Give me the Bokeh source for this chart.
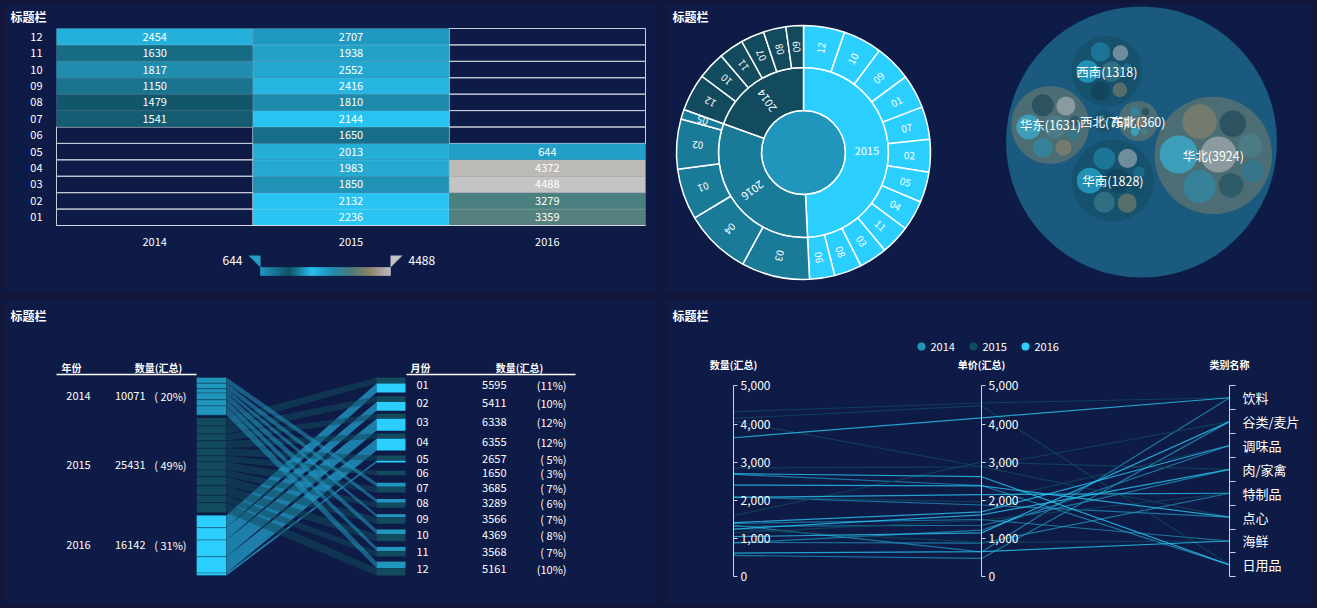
import math
from bokeh.plotting import figure
from bokeh.layouts import column, row
from bokeh.models import (ColumnDataSource, Range1d, LinearColorMapper, LinearAxis,
                          FixedTicker, NumeralTickFormatter, Spacer)
from bokeh.transform import transform
from bokeh.core.properties import value
from bokeh.embed import file_html
from bokeh.resources import INLINE

# ---------------- data ----------------
years = ["2014", "2015", "2016"]
months = ["01", "02", "03", "04", "05", "06", "07", "08", "09", "10", "11", "12"]
qty_2014 = [None, None, None, None, None, None, 1541, 1479, 1150, 1817, 1630, 2454]
qty_2015 = [2236, 2132, 1850, 1983, 2013, 1650, 2144, 1810, 2416, 2552, 1938, 2707]
qty_2016 = [3359, 3279, 4488, 4372, 644, None, None, None, None, None, None, None]
year_colors = ["#2196bd", "#124a5e", "#2bcffd"]
sunburst_colors = ["#134b5e", "#2bcffd", "#1a7b99"]
sunburst_center = "#2196bd"

regions = ["西北", "东北", "西南", "华东", "华南", "华北"]
categories = ["饮料", "谷类/麦片", "调味品", "肉/家禽", "特制品", "点心", "海鲜", "日用品"]
cat_qty_xibei = [20, 15, 12, 10, 8, 6, 3, 2]
cat_qty_dongbei = [80, 70, 50, 60, 40, 30, 20, 10]
cat_qty_xinan = [139, 123, 291, 222, 214, 245, 32, 52]
cat_qty_huadong = [206, 148, 348, 226, 272, 296, 74, 61]
cat_qty_huanan = [208, 208, 378, 274, 334, 251, 75, 100]
cat_qty_huabei = [692, 631, 773, 565, 371, 310, 258, 324]
# each region bubble rests against two earlier bubbles, on the left-hand side of i -> j
region_touch = [None, None, (0, 1), (0, 2), (1, 3), (1, 4)]
region_fill = ["#124a5e", "#9a8a6a", "#124a5e", "#9a8a6a", "#124a5e", "#9a8a6a"]
region_alpha = [0.5, 0.4, 0.5, 0.4, 0.5, 0.4]
cat_fill = ["#c8c8c8", "#9a8a6a", "#2bcffd", "#2196bd", "#0e3a4e", "#4a8a96", "#1f7f9f", "#124a5e"]

par_qty_2014 = [1350, 560, 880, 1320, 900, 2100, 1400, 2680]
par_price_2014 = [650, 480, 1220, 1350, 880, 1880, 1500, 2390]
par_qty_2015 = [4320, 2850, 2100, 1600, 1150, 4075, 1250, 4145]
par_price_2015 = [4550, 2880, 1960, 3000, 1480, 2880, 900, 4480]
par_qty_2016 = [3640, 1050, 1420, 1250, 2080, 2400, 620, 2700]
par_price_2016 = [4160, 1150, 1700, 1620, 2150, 2380, 660, 2620]

# ---------------- style ----------------
PAGE = "#13163b"
PANEL = "#0e1b46"
FONT = "Noto Sans CJK SC"
WHITE = "#ffffff"
W_L, W_R = 652, 647
H_T, H_B = 289, 304

series = [qty_2014, qty_2015, qty_2016]


def panel_fig(w, h, xr, yr):
    p = figure(width=w, height=h, x_range=xr, y_range=yr, output_backend="svg",
               toolbar_location=None, x_axis_type=None, y_axis_type=None, min_border=0)
    p.background_fill_color = PANEL
    p.border_fill_color = PANEL
    p.outline_line_color = None
    p.title.visible = False
    return p


def put_text(p, x, y, text, size="11px", align="left", bold=False, color=WHITE, angle=None):
    data = dict(x=x, y=y, text=text)
    kw = {}
    if angle is not None:
        data["angle"] = angle
        kw["angle"] = "angle"
    p.text(x="x", y="y", text="text", source=ColumnDataSource(data), text_font=value(FONT),
           text_font_size=size, text_align=align, text_baseline="middle", text_color=color,
           text_font_style="bold" if bold else "normal", **kw)


def hex_rgb(h):
    h = h.lstrip("#")
    return [int(h[i:i + 2], 16) for i in (0, 2, 4)]


def ramp(stops, n=256):
    out = []
    for k in range(n):
        t = k / (n - 1)
        for (t0, c0), (t1, c1) in zip(stops[:-1], stops[1:]):
            if t0 <= t <= t1:
                f = (t - t0) / (t1 - t0)
                a, b = hex_rgb(c0), hex_rgb(c1)
                out.append("#%02x%02x%02x" % tuple(round(a[i] + (b[i] - a[i]) * f) for i in range(3)))
                break
    return out


def plain_axis(**kw):
    return LinearAxis(minor_tick_line_color=None, major_label_text_color=WHITE,
                      major_label_text_font=FONT, **kw)


# ================= heat map (top left) =================
all_vals = [v for s in series for v in s if v is not None]
vmin, vmax = min(all_vals), max(all_vals)
heat_stops = [(0.0, "#229fc6"), (0.22, "#125569"), (0.40, "#2bcbfa"), (0.54, "#2098bf"),
              (0.685, "#4a8080"), (0.84, "#968a6c"), (1.0, "#c4c4c4")]
mapper = LinearColorMapper(palette=ramp(heat_stops), low=vmin, high=vmax)

# one unit per year column / month row; the grid occupies x 51..640, y 25..222 (px from top)
upx = 3 / 589.0
upy = 12 / 197.0
tl_x0 = -51 * upx
tl_y0 = -(H_T - 222) * upy
tl = panel_fig(W_L, H_T, Range1d(tl_x0, tl_x0 + W_L * upx), Range1d(tl_y0, tl_y0 + H_T * upy))


def TX(px):
    return tl_x0 + px * upx


def TY(top_px):
    return tl_y0 + (H_T - top_px) * upy


put_text(tl, [TX(5)], [TY(13)], ["标题栏"], size="12px", bold=True)

cx_, cy_, cv_, ex_, ey_ = [], [], [], [], []
for c, s in enumerate(series):
    for r, v in enumerate(s):
        if v is None:
            ex_.append(c + 0.5)
            ey_.append(r + 0.5)
        else:
            cx_.append(c + 0.5)
            cy_.append(r + 0.5)
            cv_.append(v)
cells = ColumnDataSource(dict(x=cx_, y=cy_, v=cv_, t=[str(v) for v in cv_]))
tl.rect(x="x", y="y", width=1, height=1, source=ColumnDataSource(dict(x=ex_, y=ey_)),
        fill_alpha=0, line_color="#c9cdd6", line_width=1)
tl.rect(x="x", y="y", width=1, height=1, source=cells, fill_color=transform("v", mapper),
        line_color="#ffffff", line_alpha=0.12, line_width=1)
tl.text(x="x", y="y", text="t", source=cells, text_font=value(FONT), text_font_size="11px",
        text_align="center", text_baseline="middle", text_color=WHITE)

xa = plain_axis(fixed_location=0, bounds=(0, 3), ticker=FixedTicker(ticks=[0.5, 1.5, 2.5]),
                major_label_overrides={i + 0.5: y for i, y in enumerate(years)},
                axis_line_color="#d4d8e0", major_tick_line_color=None, major_label_standoff=6,
                major_label_text_font_size="11px")
tl.add_layout(xa, "below")
ya = plain_axis(fixed_location=0, bounds=(0, 12), ticker=FixedTicker(ticks=[i + 0.5 for i in range(12)]),
                major_label_overrides={i + 0.5: m for i, m in enumerate(months)},
                axis_line_color=None, major_tick_line_color=None, major_label_standoff=8,
                major_label_text_font_size="11px")
tl.add_layout(ya, "left")

# continuous colour legend: bar 255..385 px, values vmin..vmax
steps = 130
gl = [TX(255 + 130.0 * i / steps) for i in range(steps)]
gr = [TX(255 + 130.0 * (i + 1) / steps) for i in range(steps)]
gm = [vmin + (vmax - vmin) * (i + 0.5) / steps for i in range(steps)]
tl.quad(left="l", right="r", top=TY(264), bottom=TY(272), source=ColumnDataSource(dict(l=gl, r=gr, m=gm)),
        fill_color=transform("m", mapper), line_color=transform("m", mapper), line_width=0.5)
tri = ColumnDataSource(dict(xs=[[TX(243), TX(255), TX(255)], [TX(385), TX(397), TX(385)]],
                            ys=[[TY(252), TY(252), TY(264)], [TY(252), TY(252), TY(264)]], v=[vmin, vmax]))
tl.patches(xs="xs", ys="ys", source=tri, fill_color=transform("v", mapper), line_color=None)
put_text(tl, [TX(237)], [TY(257)], [str(vmin)], size="12px", align="right")
put_text(tl, [TX(403)], [TY(257)], [str(vmax)], size="12px", align="left")

# ================= sunburst + packed bubbles (top right) =================
tr = panel_fig(W_R, H_T, Range1d(0, W_R), Range1d(0, H_T))
put_text(tr, [7], [H_T - 13], ["标题栏"], size="12px", bold=True)

year_tot = [sum(v for v in s if v is not None) for s in series]
grand = sum(year_tot)
sb_x, sb_y = 138, 140
r_in, r_mid, r_out = 42, 85, 127

w1 = dict(s=[], e=[], c=[])
w2 = dict(s=[], e=[], c=[])
l1 = dict(x=[], y=[], t=[], a=[])
l2 = dict(x=[], y=[], t=[], a=[])
frac = 0.0
for yi in sorted(range(3), key=lambda i: -year_tot[i]):
    f0, f1 = frac, frac + year_tot[yi] / grand
    w1["s"].append(math.pi / 2 - 2 * math.pi * f1)
    w1["e"].append(math.pi / 2 - 2 * math.pi * f0)
    w1["c"].append(sunburst_colors[yi])
    th = math.pi / 2 - 2 * math.pi * (f0 + f1) / 2
    rm = (r_in + r_mid) / 2
    l1["x"].append(sb_x + rm * math.cos(th))
    l1["y"].append(sb_y + rm * math.sin(th))
    l1["t"].append(years[yi])
    l1["a"].append(th)
    kids = sorted([(v, m) for m, v in zip(months, series[yi]) if v is not None], key=lambda t: -t[0])
    g = f0
    for v, m in kids:
        g0, g1 = g, g + v / grand
        w2["s"].append(math.pi / 2 - 2 * math.pi * g1)
        w2["e"].append(math.pi / 2 - 2 * math.pi * g0)
        w2["c"].append(sunburst_colors[yi])
        th = math.pi / 2 - 2 * math.pi * (g0 + g1) / 2
        rm = (r_mid + r_out) / 2
        l2["x"].append(sb_x + rm * math.cos(th))
        l2["y"].append(sb_y + rm * math.sin(th))
        l2["t"].append(m)
        l2["a"].append(th)
        g = g1
    frac = f1

tr.circle(x=[sb_x], y=[sb_y], radius=r_in, fill_color=sunburst_center, line_color=WHITE, line_width=1.5)
tr.annular_wedge(x=sb_x, y=sb_y, inner_radius=r_in, outer_radius=r_mid, start_angle="s", end_angle="e",
                 direction="anticlock", source=ColumnDataSource(w1), fill_color="c", line_color=WHITE,
                 line_width=1.5)
tr.annular_wedge(x=sb_x, y=sb_y, inner_radius=r_mid, outer_radius=r_out, start_angle="s", end_angle="e",
                 direction="anticlock", source=ColumnDataSource(w2), fill_color="c", line_color=WHITE,
                 line_width=1.5)
put_text(tr, l1["x"], l1["y"], l1["t"], size="11px", align="center", angle=l1["a"])
put_text(tr, l2["x"], l2["y"], l2["t"], size="10px", align="center", angle=l2["a"])


# ---- circle packing ----
def tangent_spots(a, b, r):
    (x1, y1, r1), (x2, y2, r2) = a, b
    R1, R2 = r1 + r, r2 + r
    dx, dy = x2 - x1, y2 - y1
    d = math.hypot(dx, dy)
    if d < 1e-12 or d > R1 + R2 or d < abs(R1 - R2):
        return []
    t = (R1 * R1 - R2 * R2 + d * d) / (2 * d)
    h = math.sqrt(max(R1 * R1 - t * t, 0.0))
    ux, uy = dx / d, dy / d
    bx, by = x1 + t * ux, y1 + t * uy
    return [(bx - h * uy, by + h * ux), (bx + h * uy, by - h * ux)]


def enclose2(a, b):
    (x1, y1, r1), (x2, y2, r2) = a, b
    dx, dy = x2 - x1, y2 - y1
    l = math.hypot(dx, dy)
    if l < 1e-12:
        return (x1, y1, max(r1, r2))
    R = (l + r1 + r2) / 2
    return (x1 + dx / l * (R - r1), y1 + dy / l * (R - r1), R)


def enclose3(a, b, c):
    x1, y1, r1 = a
    x2, y2, r2 = b
    x3, y3, r3 = c
    a2, a3 = x1 - x2, x1 - x3
    b2, b3 = y1 - y2, y1 - y3
    c2, c3 = r2 - r1, r3 - r1
    d1 = x1 * x1 + y1 * y1 - r1 * r1
    d2 = d1 - x2 * x2 - y2 * y2 + r2 * r2
    d3 = d1 - x3 * x3 - y3 * y3 + r3 * r3
    ab = a3 * b2 - a2 * b3
    if abs(ab) < 1e-12:
        return None
    xa = (b2 * d3 - b3 * d2) / (ab * 2) - x1
    xb = (b3 * c2 - b2 * c3) / ab
    ya = (a3 * d2 - a2 * d3) / (ab * 2) - y1
    yb = (a2 * c3 - a3 * c2) / ab
    A = xb * xb + yb * yb - 1
    B = 2 * (r1 + xa * xb + ya * yb)
    C = xa * xa + ya * ya - r1 * r1
    if abs(A) > 1e-6:
        disc = B * B - 4 * A * C
        if disc < 0:
            return None
        r = -(B + math.sqrt(disc)) / (2 * A)
    else:
        if abs(B) < 1e-12:
            return None
        r = -C / B
    return (x1 + xa + xb * r, y1 + ya + yb * r, r)


def min_enclosing(circles):
    cands = [tuple(c) for c in circles]
    n = len(circles)
    for i in range(n):
        for j in range(i + 1, n):
            cands.append(enclose2(circles[i], circles[j]))
            for k in range(j + 1, n):
                e = enclose3(circles[i], circles[j], circles[k])
                if e is not None:
                    cands.append(e)
    best = None
    for c in cands:
        if c[2] <= 0:
            continue
        if all(math.hypot(q[0] - c[0], q[1] - c[1]) + q[2] <= c[2] + 1e-6 for q in circles):
            if best is None or c[2] < best[2]:
                best = c
    return best


def pack(radii, pad, touch=None):
    rs = [r + pad for r in radii]
    placed = []
    for k, r in enumerate(rs):
        if not placed:
            placed.append((0.0, 0.0, r))
            continue
        if len(placed) == 1:
            placed.append((placed[0][2] + r, 0.0, r))
            continue
        if touch is not None:
            i, j = touch[k]
            x, y = tangent_spots(placed[i], placed[j], r)[0]
            placed.append((x, y, r))
            continue
        mx = sum(q[0] for q in placed) / len(placed)
        my = sum(q[1] for q in placed) / len(placed)
        best = None
        for i in range(len(placed)):
            for j in range(i + 1, len(placed)):
                for (x, y) in tangent_spots(placed[i], placed[j], r):
                    if any(math.hypot(x - q[0], y - q[1]) < q[2] + r - 1e-7 for q in placed):
                        continue
                    e = min_enclosing(placed + [(x, y, r)])[2]
                    key = (round(e, 4), math.hypot(x - mx, y - my))
                    if best is None or key < best[0]:
                        best = (key, x, y)
        placed.append((best[1], best[2], r))
    ex, ey, er = min_enclosing(placed)
    return [(x - ex, y - ey, r - pad) for x, y, r in placed], er + pad


# region bubble radius follows sqrt(total) plus a rim; its categories are packed inside it
RIM = 3.6
LEAF_PAD = 2.0
INNER_GAP = 2.5
REGION_PAD = 2.1
region_leaves = [cat_qty_xibei, cat_qty_dongbei, cat_qty_xinan, cat_qty_huadong, cat_qty_huanan, cat_qty_huabei]
leaf_layouts, region_r = [], []
for vals in region_leaves:
    rr = math.sqrt(sum(vals)) + RIM
    order = sorted(range(len(vals)), key=lambda i: -vals[i])
    circ, lr = pack([math.sqrt(vals[i]) for i in order], LEAF_PAD)
    f = (rr - INNER_GAP) / lr
    leaf_layouts.append([(order[k], (circ[k][0] * f, circ[k][1] * f, circ[k][2] * f)) for k in range(len(order))])
    region_r.append(rr)
reg_pos, root_r = pack(region_r, REGION_PAD, region_touch)

bub_x, bub_y, bub_r = 476, 150.5, 135.5
s = bub_r / root_r
tr.circle(x=[bub_x], y=[bub_y], radius=bub_r, fill_color="#1a5a7e", line_color=None)
rg = dict(x=[], y=[], r=[], c=[], a=[], t=[])
lf = dict(x=[], y=[], r=[], c=[])
for k, (px, py, _) in enumerate(reg_pos):
    gx, gy = bub_x + s * px, bub_y + s * py
    rg["x"].append(gx)
    rg["y"].append(gy)
    rg["r"].append(s * region_r[k])
    rg["c"].append(region_fill[k])
    rg["a"].append(region_alpha[k])
    rg["t"].append("%s(%d)" % (regions[k], sum(region_leaves[k])))
    for ci, (lx, ly, lr) in leaf_layouts[k]:
        lf["x"].append(gx + s * lx)
        lf["y"].append(gy + s * ly)
        lf["r"].append(s * lr)
        lf["c"].append(cat_fill[ci])
tr.circle(x="x", y="y", radius="r", source=ColumnDataSource(rg), fill_color="c", fill_alpha="a", line_color=None)
tr.circle(x="x", y="y", radius="r", source=ColumnDataSource(lf), fill_color="c", fill_alpha=0.5, line_color=None)
put_text(tr, rg["x"], rg["y"], rg["t"], size="12.5px", align="center")

top_row = row(tl, tr, spacing=8)

# ================= sankey (bottom left) =================
bl = panel_fig(W_L, H_B, Range1d(0, W_L), Range1d(H_B, 0))
put_text(bl, [5], [16], ["标题栏"], size="12px", bold=True)

month_tot = [sum(s[i] for s in series if s[i] is not None) for i in range(12)]
node_top, node_bot = 78, 276
lx0, lx1, rx0, rx1 = 191, 221, 371, 400
lgap, rgap, min_gap = 2.5, 5.4, 2.0
kl = (node_bot - node_top - 2 * lgap) / grand
kr = (node_bot - node_top - 11 * rgap) / grand

ly_start, y = [], node_top
for t in year_tot:
    ly_start.append(y)
    y += t * kl + lgap

# month nodes: value-stacked centres relaxed half way toward an even spacing
rh = [t * kr for t in month_tot]
stack_c, y = [], node_top
for h in rh:
    stack_c.append(y + h / 2)
    y += h + rgap
first_c, last_c = stack_c[0], stack_c[-1]
even_c = [first_c + (last_c - first_c) * i / 11 for i in range(12)]
ry_mid = [(a + b) / 2 for a, b in zip(stack_c, even_c)]
ry_start = []
for i in range(12):
    top = ry_mid[i] - rh[i] / 2
    if i and top < ry_start[-1] + rh[i - 1] + min_gap:
        top = ry_start[-1] + rh[i - 1] + min_gap
    ry_start.append(top)
ry_mid = [ry_start[i] + rh[i] / 2 for i in range(12)]

links = dict(xs=[], ys=[], c=[])
lseg = dict(l=[], r=[], t=[], b=[], c=[])
rseg = dict(l=[], r=[], t=[], b=[], c=[])
l_cur = list(ly_start)
r_cur = list(ry_start)
for mi in range(12):
    for yi in range(3):
        v = series[yi][mi]
        if v is None:
            continue
        a0, a1 = l_cur[yi], l_cur[yi] + v * kl
        b0, b1 = r_cur[mi], r_cur[mi] + v * kr
        l_cur[yi], r_cur[mi] = a1, b1
        links["xs"].append([lx1, rx0, rx0, lx1])
        links["ys"].append([a0, b0, b1, a1])
        links["c"].append(year_colors[yi])
        for d, (x0, x1, y0, y1) in ((lseg, (lx0, lx1, a0, a1)), (rseg, (rx0, rx1, b0, b1))):
            d["l"].append(x0)
            d["r"].append(x1)
            d["t"].append(y0)
            d["b"].append(y1)
            d["c"].append(year_colors[yi])
bl.patches(xs="xs", ys="ys", source=ColumnDataSource(links), fill_color="c", fill_alpha=0.55, line_color=None)
bl.quad(left="l", right="r", top="t", bottom="b", source=ColumnDataSource(lseg), fill_color="c",
        line_color="#0b1430", line_alpha=0.3, line_width=1)
bl.quad(left="l", right="r", top="t", bottom="b", source=ColumnDataSource(rseg), fill_color="c",
        line_color=None)

put_text(bl, [56], [68], ["年份"], size="10px", bold=True)
put_text(bl, [153], [68], ["数量(汇总)"], size="10px", bold=True, align="center")
put_text(bl, [405], [68], ["月份"], size="10px", bold=True)
put_text(bl, [514], [68], ["数量(汇总)"], size="10px", bold=True, align="center")
bl.segment(x0=[51, 401], y0=[75, 75], x1=[191, 570], y1=[75, 75], line_color=WHITE, line_width=1.5)
ly_mid = [ly_start[i] + year_tot[i] * kl / 2 for i in range(3)]
put_text(bl, [73] * 3, ly_mid, years, align="center")
put_text(bl, [140] * 3, ly_mid, [str(t) for t in year_tot], align="right")
put_text(bl, [181] * 3, ly_mid, ["(%3d%%)" % round(t * 100.0 / grand) for t in year_tot], align="right")
put_text(bl, [411] * 12, ry_mid, months)
put_text(bl, [501] * 12, ry_mid, [str(t) for t in month_tot], align="right")
put_text(bl, [561] * 12, ry_mid, ["(%2d%%)" % round(t * 100.0 / grand) for t in month_tot], align="right")

# ================= parallel coordinates (bottom right) =================
vpp = 5000 / 191.0
py0 = -26.7 * vpp
xpp = 1 / 248.0
px0 = -68 * xpp
br = panel_fig(W_R, H_B, Range1d(px0, px0 + W_R * xpp), Range1d(py0, py0 + H_B * vpp))


def BX(px):
    return px0 + px * xpp


def BY(top_px):
    return py0 + (H_B - top_px) * vpp


put_text(br, [BX(7)], [BY(16)], ["标题栏"], size="12px", bold=True)

band = 5000 / len(categories)
cat_y = [5000 - (i + 0.5) * band for i in range(len(categories))]
par = [(par_qty_2014, par_price_2014), (par_qty_2015, par_price_2015), (par_qty_2016, par_price_2016)]
for yi, (q, pr) in enumerate(par):
    br.multi_line(xs=[[0, 1, 2]] * len(categories), ys=[[q[i], pr[i], cat_y[i]] for i in range(len(categories))],
                  line_color=year_colors[yi], line_alpha=0.75, line_width=1.2)

AX = "#cfd3dc"
for loc in (0, 1):
    ax = plain_axis(fixed_location=loc, bounds=(0, 5000), ticker=FixedTicker(ticks=[0, 1000, 2000, 3000, 4000, 5000]),
                    formatter=NumeralTickFormatter(format="0,0"), axis_line_color=AX, major_tick_line_color=AX,
                    major_tick_out=4, major_tick_in=0, major_label_standoff=3, major_label_text_font_size="12px")
    br.add_layout(ax, "right")
ax = plain_axis(fixed_location=2, bounds=(0, 5000), ticker=FixedTicker(ticks=[i * band for i in range(len(categories) + 1)]),
                axis_line_color=AX, major_tick_line_color=AX, major_tick_out=6, major_tick_in=0,
                major_label_text_alpha=0)
br.add_layout(ax, "right")
ax = plain_axis(fixed_location=2, bounds=(0, 5000), ticker=FixedTicker(ticks=cat_y),
                major_label_overrides={cy: name for cy, name in zip(cat_y, categories)},
                axis_line_color=None, major_tick_line_color=None,
                major_label_standoff=7, major_label_text_font_size="13px")
br.add_layout(ax, "right")

put_text(br, [0, 1, 2], [BY(65)] * 3, ["数量(汇总)", "单价(汇总)", "类别名称"], size="10px", bold=True, align="center")

# legend: dot + year label, centred above the axes
leg_x = [256 + 52 * i for i in range(3)]
br.scatter(x=[BX(v) for v in leg_x], y=[BY(47)] * 3, marker="circle", size=8, fill_color=year_colors,
           line_color=None)
put_text(br, [BX(v + 9) for v in leg_x], [BY(47)] * 3, years, size="11px")

bottom_row = row(bl, br, spacing=8)

main = column(top_row, bottom_row, spacing=7)
root = column(Spacer(height=3), row(Spacer(width=5), main, Spacer(width=5)), Spacer(height=5),
              styles={"background-color": PAGE})

open("out.html", "w").write(file_html(root, INLINE))
